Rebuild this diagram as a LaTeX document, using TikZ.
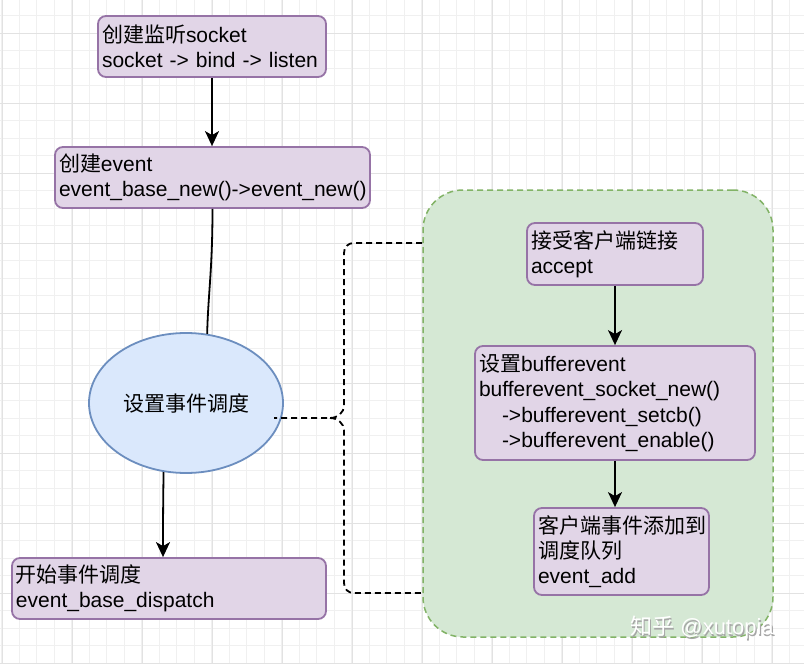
\documentclass[tikz,border=0pt]{standalone}
\usepackage{fontspec}
\setmainfont{Liberation Sans}
\newfontfamily\cjk{Noto Sans CJK SC}
\usetikzlibrary{arrows.meta,shapes.geometric,calc}
\definecolor{pfill}{HTML}{E1D5E7}
\definecolor{pstroke}{HTML}{9673A6}
\definecolor{bfill}{HTML}{DAE8FC}
\definecolor{bstroke}{HTML}{6C8EBF}
\definecolor{gfill}{HTML}{D5E8D4}
\definecolor{gstroke}{HTML}{82B366}
\definecolor{gridminor}{HTML}{F0F0F0}
\definecolor{gridmajor}{HTML}{E2E2E2}
\tikzset{
  txt/.style={font=\fontsize{21pt}{25.3pt}\selectfont},
  pbox/.style={txt, draw=pstroke, fill=pfill, line width=1.8pt, rounded corners=8pt,
    align=left, inner xsep=4pt, inner ysep=0pt},
  conn/.style={line width=1.8pt, -{Stealth[length=15pt,width=14pt,inset=4pt]}},
  plainconn/.style={line width=1.8pt},
  bracestyle/.style={line width=1.8pt, dash pattern=on 6pt off 4pt},
}
\begin{document}
\begin{tikzpicture}[x=1pt,y=-1pt]
\useasboundingbox (0,0) rectangle (804,664);
\fill[white] (0,0) rectangle (804,664);
% grid
\foreach \i in {0,...,45} \draw[gridminor, line width=1pt] ({1.7+17.5*\i},0) -- ++(0,664);
\foreach \i in {0,...,37} \draw[gridminor, line width=1pt] (0,{15.5+17.5*\i}) -- ++(804,0);
\foreach \i in {0,...,11} \draw[gridmajor, line width=1pt] ({2+70*\i},0) -- ++(0,664);
\foreach \i in {0,...,9} \draw[gridmajor, line width=1pt] (0,{33+70*\i}) -- ++(804,0);

% green container
\node (grp) [draw=gstroke, fill=gfill, line width=1.5pt, dash pattern=on 6pt off 4pt,
  rounded corners=40pt, minimum width=350pt, minimum height=447pt, inner sep=0pt] at (598,413.5) {};

% main flow
\node (b1) [pbox, text width=220pt, minimum width=228pt, minimum height=61pt] at (212,46.5)
  {{\cjk 创建监听}socket\\socket -> bind -> listen};
\node (b2) [pbox, text width=307pt, minimum width=315pt, minimum height=61pt] at (212.5,177.5)
  {{\cjk 创建}event\\\mbox{event\_base\_new()->event\_new()}};
\node (ell) [ellipse, draw=bstroke, fill=bfill, line width=1.8pt, minimum width=194pt,
  minimum height=140pt, inner sep=0pt, txt] at (186,403) {\cjk 设置事件调度};
\node (b4) [pbox, text width=306pt, minimum width=314pt, minimum height=61pt] at (169,588.5)
  {{\cjk 开始事件调度}\\event\_base\_dispatch};

% right flow
\node (b5) [pbox, text width=168pt, minimum width=176pt, minimum height=62pt] at (615,254)
  {{\cjk 接受客户端链接}\\accept};
\node (b6) [pbox, text width=272pt, minimum width=280pt, minimum height=114pt] at (615,403)
  {{\cjk 设置}bufferevent\\bufferevent\_socket\_new()\\\hspace*{23pt}->bufferevent\_setcb()\\\hspace*{23pt}->bufferevent\_enable()};
\node (b7) [pbox, text width=167pt, minimum width=175pt, minimum height=87pt] at (621.5,551.5)
  {{\cjk 客户端事件添加到}\\{\cjk 调度队列}\\event\_add};

% connectors
\draw[conn] (b1.south) -- (b1.south |- b2.north);
\draw[plainconn] (b2.south) .. controls +(0,60) and +(1,-40) .. (ell.73);
\draw[conn] (ell.252) .. controls +(-0.5,30) and +(0,-30) .. ([xshift=-6pt]b4.north);
\draw[conn] (b5.south) -- (b6.north);
\draw[conn] (b6.south) -- (b6.south |- b7.north);

% curly bracket
\coordinate (brS) at (274,418);
\coordinate (brT) at (422,243);
\coordinate (brB) at (422,593);
\draw[bracestyle] (brT) -- (354,243) .. controls (348,243) and (344,247) .. (344,253)
  -- (344,406) .. controls (344,412) and (338,418) .. (330,418) -- (brS);
\draw[bracestyle] (330,418) .. controls (338,418) and (344,424) .. (344,430)
  -- (344,583) .. controls (344,589) and (348,593) .. (354,593) -- (brB);

% watermark
\node (wm1) [txt, font=\fontsize{22pt}{26pt}\selectfont, text=gray!70] at (703.2,629.2) {{\cjk 知乎} @xutopia};
\node (wm) [txt, font=\fontsize{22pt}{26pt}\selectfont, text=white] at (702,628) {{\cjk 知乎} @xutopia};
\end{tikzpicture}
\end{document}
